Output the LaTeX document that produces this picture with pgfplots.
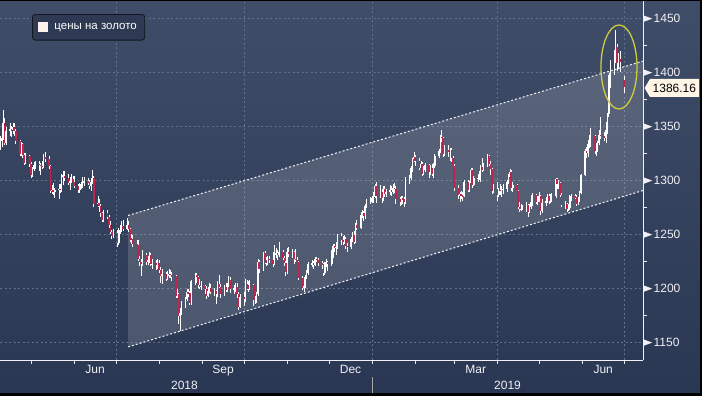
\documentclass[border=0pt]{standalone}
\usepackage{pgfplots}
\pgfplotsset{compat=1.18}
\usepackage{pgfplotstable}
\usepackage{fontspec}
\setmainfont{Liberation Sans}
\definecolor{bgtop}{RGB}{64,77,104}
\definecolor{bgbot}{RGB}{42,55,82}
\definecolor{gridc}{RGB}{98,112,140}
\definecolor{candlered}{RGB}{188,38,76}
\definecolor{legfill}{RGB}{46,57,84}
\definecolor{legdraw}{RGB}{18,22,32}
\definecolor{legsq}{RGB}{255,242,238}
\definecolor{ellc}{RGB}{204,204,62}
\definecolor{tagc}{RGB}{255,246,232}
\definecolor{txtc}{RGB}{240,240,245}
\pgfplotstableread{
d o h l c
98 1332 1341 1328 1336
99 1336 1342 1331 1339
100 1339 1365 1337 1353
101 1353 1357 1332 1334
102 1334 1349 1332 1345
105 1345 1353 1341 1347
106 1347 1350 1340 1346
107 1346 1353 1343 1349
108 1349 1353 1341 1345
109 1345 1347 1333 1336
112 1336 1337 1322 1324
113 1324 1335 1322 1333
114 1333 1334 1320 1323
115 1323 1325 1314 1316
116 1316 1325 1315 1322
119 1322 1323 1312 1315
120 1315 1317 1302 1305
121 1305 1312 1303 1310
122 1310 1317 1308 1314
123 1314 1318 1310 1315
126 1315 1318 1308 1314
127 1314 1316 1305 1313
128 1313 1318 1310 1312
129 1312 1324 1311 1321
130 1321 1326 1317 1319
133 1319 1322 1310 1313
134 1313 1314 1288 1290
135 1290 1295 1287 1291
136 1291 1297 1286 1289
137 1289 1293 1283 1291
140 1291 1296 1282 1292
141 1292 1296 1288 1291
142 1291 1306 1289 1304
143 1304 1308 1295 1304
144 1304 1308 1299 1302
147 1302 1306 1295 1297
148 1297 1303 1291 1299
149 1299 1306 1297 1301
150 1301 1304 1296 1298
151 1298 1304 1293 1294
154 1294 1296 1288 1291
155 1291 1297 1288 1294
156 1294 1298 1292 1296
157 1296 1303 1293 1298
158 1297 1303 1294 1299
161 1299 1302 1295 1298
162 1298 1300 1292 1294
163 1294 1300 1290 1298
164 1298 1309 1296 1302
165 1302 1304 1275 1278
168 1278 1285 1275 1279
169 1279 1282 1270 1276
170 1276 1278 1266 1269
171 1269 1270 1261 1263
172 1263 1272 1261 1269
175 1269 1272 1264 1266
176 1266 1268 1256 1258
177 1258 1262 1250 1252
178 1252 1254 1245 1248
179 1248 1255 1246 1251
182 1251 1254 1238 1242
183 1242 1256 1240 1253
184 1253 1258 1250 1254
185 1254 1262 1252 1257
186 1257 1263 1253 1255
189 1255 1265 1254 1258
190 1258 1262 1252 1255
191 1255 1256 1243 1246
192 1246 1250 1241 1245
193 1245 1249 1238 1241
196 1241 1244 1236 1240
197 1240 1244 1225 1227
198 1227 1230 1220 1224
199 1224 1227 1211 1222
200 1222 1235 1220 1231
203 1231 1232 1221 1224
204 1224 1230 1221 1226
205 1226 1233 1223 1231
206 1231 1232 1220 1222
207 1222 1227 1218 1223
210 1223 1226 1217 1221
211 1221 1227 1218 1223
212 1223 1226 1214 1217
213 1217 1219 1205 1211
214 1211 1218 1204 1213
217 1213 1215 1206 1208
218 1208 1216 1207 1211
219 1211 1218 1209 1213
220 1213 1217 1209 1212
221 1212 1215 1206 1211
224 1211 1212 1191 1193
225 1193 1199 1191 1194
226 1194 1195 1167 1174
227 1174 1181 1160 1177
228 1177 1188 1175 1184
231 1184 1192 1181 1190
232 1190 1199 1188 1196
233 1196 1199 1192 1195
234 1195 1197 1184 1186
235 1186 1207 1184 1206
238 1206 1214 1203 1212
239 1212 1214 1205 1210
240 1210 1211 1200 1203
241 1203 1208 1199 1201
242 1201 1206 1198 1202
245 1202 1203 1194 1199
246 1199 1202 1190 1193
247 1193 1201 1192 1197
248 1197 1205 1195 1200
249 1200 1204 1194 1196
252 1196 1200 1193 1197
253 1197 1198 1185 1194
254 1194 1206 1192 1204
255 1204 1212 1200 1201
256 1201 1204 1191 1194
259 1194 1203 1193 1201
260 1201 1205 1196 1198
261 1198 1205 1196 1203
262 1203 1211 1201 1207
263 1207 1210 1195 1199
266 1199 1203 1194 1200
267 1200 1205 1196 1201
268 1201 1205 1191 1194
269 1194 1196 1180 1182
270 1182 1194 1181 1192
273 1192 1196 1183 1190
274 1190 1208 1187 1204
275 1204 1207 1198 1203
276 1203 1206 1196 1199
277 1199 1207 1198 1203
280 1203 1204 1183 1189
281 1189 1193 1185 1190
282 1190 1196 1186 1194
283 1194 1227 1193 1224
284 1224 1226 1214 1218
287 1218 1233 1216 1232
288 1232 1234 1222 1226
289 1226 1229 1220 1223
290 1223 1230 1221 1227
291 1227 1230 1223 1226
294 1226 1233 1219 1222
295 1222 1240 1221 1231
296 1231 1237 1228 1232
297 1232 1235 1226 1231
298 1231 1243 1229 1233
301 1233 1235 1226 1228
302 1228 1230 1220 1223
303 1223 1225 1211 1215
304 1215 1237 1213 1233
305 1233 1238 1229 1232
308 1232 1236 1228 1233
309 1233 1234 1222 1227
310 1227 1236 1224 1226
311 1226 1229 1221 1224
312 1224 1225 1207 1209
315 1209 1211 1198 1200
316 1200 1206 1196 1202
317 1202 1212 1200 1210
318 1210 1217 1208 1214
319 1214 1224 1212 1222
322 1222 1226 1219 1223
323 1223 1225 1218 1221
324 1221 1229 1220 1227
325 1227 1229 1224 1226
326 1226 1228 1220 1223
329 1223 1225 1218 1222
330 1222 1223 1211 1214
331 1214 1224 1212 1221
332 1221 1227 1219 1224
333 1224 1225 1216 1222
336 1222 1235 1220 1230
337 1230 1241 1228 1239
338 1239 1241 1233 1237
339 1237 1243 1231 1238
340 1238 1250 1236 1248
343 1248 1251 1240 1244
344 1244 1248 1240 1243
345 1243 1249 1241 1245
346 1245 1247 1236 1239
347 1239 1242 1233 1238
350 1238 1247 1236 1245
351 1245 1252 1243 1249
352 1249 1253 1241 1243
353 1243 1260 1242 1258
354 1258 1263 1254 1256
357 1256 1270 1255 1268
358 1268 1272 1265 1269
359 1269 1271 1262 1267
360 1267 1278 1264 1276
361 1276 1282 1274 1280
364 1280 1284 1278 1282
365 1282 1285 1279 1283
366 1283 1289 1279 1284
367 1284 1296 1283 1294
368 1294 1298 1279 1285
371 1285 1295 1283 1289
372 1289 1290 1279 1283
373 1283 1294 1281 1292
374 1292 1294 1284 1287
375 1287 1292 1284 1289
378 1289 1295 1286 1291
379 1291 1294 1285 1289
380 1289 1296 1287 1293
381 1293 1297 1288 1292
382 1292 1294 1278 1282
385 1282 1284 1276 1280
386 1280 1285 1277 1283
387 1283 1285 1278 1282
388 1282 1284 1275 1280
389 1280 1303 1278 1298
392 1298 1305 1296 1302
393 1302 1313 1300 1311
394 1311 1320 1307 1319
395 1319 1326 1317 1321
396 1321 1323 1313 1318
399 1318 1320 1309 1311
400 1311 1318 1310 1315
401 1315 1317 1304 1306
402 1306 1313 1305 1309
403 1309 1316 1307 1314
406 1314 1315 1302 1307
407 1307 1314 1305 1311
408 1311 1315 1304 1306
409 1306 1316 1302 1313
410 1313 1324 1311 1322
413 1322 1329 1320 1327
414 1327 1342 1325 1340
415 1340 1346 1335 1339
416 1339 1340 1321 1324
417 1324 1332 1322 1328
420 1328 1332 1321 1326
421 1326 1330 1318 1328
422 1328 1330 1317 1320
423 1320 1322 1310 1313
424 1313 1315 1290 1293
427 1293 1295 1282 1286
428 1286 1289 1280 1287
429 1287 1290 1282 1286
430 1286 1289 1281 1285
431 1285 1300 1284 1298
434 1298 1300 1289 1291
435 1291 1299 1289 1297
436 1297 1311 1296 1309
437 1309 1311 1293 1295
438 1295 1304 1294 1302
441 1301 1305 1298 1302
442 1302 1308 1300 1306
443 1306 1314 1298 1312
444 1312 1320 1307 1309
445 1309 1316 1308 1313
448 1313 1324 1312 1322
449 1322 1323 1313 1315
450 1315 1318 1305 1310
451 1310 1311 1287 1290
452 1290 1296 1288 1292
455 1292 1298 1281 1286
456 1286 1293 1284 1291
457 1291 1296 1286 1290
458 1290 1294 1284 1291
459 1291 1296 1287 1292
462 1292 1300 1289 1298
463 1298 1306 1296 1303
464 1303 1310 1300 1307
465 1307 1309 1290 1293
466 1293 1298 1289 1295
469 1295 1296 1286 1290
470 1290 1291 1273 1275
471 1275 1280 1270 1273
472 1273 1278 1271 1274
473 1274 1277 1272 1275
476 1275 1280 1270 1277
477 1277 1278 1266 1270
478 1270 1278 1269 1275
479 1275 1282 1273 1280
480 1280 1288 1276 1286
483 1286 1287 1278 1280
484 1280 1285 1277 1283
485 1283 1289 1280 1285
486 1285 1286 1268 1271
487 1271 1282 1269 1279
490 1279 1284 1276 1281
491 1281 1287 1279 1285
492 1285 1287 1278 1281
493 1281 1287 1279 1284
494 1284 1288 1280 1285
497 1285 1302 1283 1301
498 1301 1302 1292 1296
499 1296 1300 1292 1297
500 1297 1298 1284 1286
501 1286 1288 1275 1277
504 1277 1281 1273 1278
505 1278 1279 1270 1273
506 1273 1278 1271 1274
507 1274 1286 1272 1283
508 1283 1287 1281 1285
511 1285 1287 1282 1284
512 1284 1286 1276 1278
513 1278 1284 1277 1281
514 1281 1290 1280 1288
515 1288 1306 1287 1305
518 1305 1329 1304 1327
519 1327 1331 1320 1325
520 1325 1336 1321 1333
521 1333 1342 1330 1337
522 1337 1348 1331 1341
525 1341 1342 1324 1327
526 1327 1334 1322 1328
527 1328 1336 1326 1334
528 1334 1346 1332 1342
529 1342 1358 1338 1341
532 1341 1344 1336 1339
533 1339 1354 1334 1346
534 1346 1362 1343 1361
535 1361 1397 1358 1391
536 1391 1411 1385 1399
539 1399 1420 1397 1418
540 1418 1439 1408 1423
541 1423 1426 1401 1408
542 1408 1418 1403 1412
543 1412 1419 1400 1409
546 1393 1396 1381 1386
}\gold
\begin{document}
\begin{tikzpicture}[x=1pt,y=1pt]
\shade[top color=bgtop, bottom color=bgbot] (0,0) rectangle (702,396);
\begin{axis}[
  at={(0pt,36pt)}, anchor=south west,
  width=643pt, height=360pt, scale only axis,
  xmin=97.7, xmax=559.6, ymin=1133.3, ymax=1466.7,
  axis x line*=bottom, axis y line*=right,
  axis line style={txtc, line width=0.9pt},
  ytick={1150,1200,...,1450},
  minor ytick={1175,1225,...,1425},
  xtick={181,273,365,455,546},
  minor xtick={120,151,212,243,304,334,396,424,485,516},
  xticklabels={},
  extra x ticks={166,258,349.5,439.5,531},
  extra x tick labels={Jun,Sep,Dec,Mar,Jun},
  extra x tick style={grid=none, major tick length=0pt},
  tick align=outside,
  major tick length=4pt, minor tick length=4pt,
  every tick/.style={txtc, line width=0.8pt},
  xmajorgrids, ymajorgrids,
  major grid style={gridc, line width=0.6pt, dash pattern=on 2pt off 2.5pt},
  tick label style={font=\fontsize{12}{14}\selectfont, text=txtc},
  xticklabel style={yshift=-2pt},
  yticklabel style={anchor=west, inner sep=0pt, xshift=-3pt},
  yticklabel={\tikz[baseline=-0.55ex]\fill[txtc](0,-3pt)--(8pt,0)--(0,3pt)--cycle;\hspace{1.5pt}\pgfmathprintnumber[assume math mode=true,1000 sep={},fixed,precision=0]{\tick}},
  clip=true,
  legend style={at={(0.0498,0.961)}, anchor=north west, fill=legfill, draw=legdraw,
    rounded corners=3pt, text=white, font=\fontsize{11.5}{13}\selectfont,
    inner xsep=6pt, inner ysep=7pt, line width=0.8pt,
    /tikz/every odd column/.append style={column sep=4pt}},
  legend image code/.code={\fill[legsq, sharp corners] (0pt,-5pt) rectangle (10pt,5pt);},
]
% channel
\addplot[draw=none, fill=white, fill opacity=0.15, forget plot]
  coordinates {(189.7,1267.1) (559.6,1410.1) (559.6,1290.3) (189.7,1145.4)} -- cycle;
\addplot[white!92!gridc, line width=1pt, dash pattern=on 2pt off 2pt, forget plot]
  coordinates {(189.7,1267.1) (559.6,1410.1)};
\addplot[white!92!gridc, line width=1pt, dash pattern=on 2pt off 2pt, forget plot]
  coordinates {(189.7,1145.4) (559.6,1290.3)};
% wicks
\addplot[draw=none, forget plot,
  error bars/.cd, y dir=both, y explicit, error mark=none,
  error bar style={draw=white, line width=0.6pt}]
  table[x=d, y expr={0.5*(\thisrow{h}+\thisrow{l})}, y error expr={0.5*(\thisrow{h}-\thisrow{l})}] {\gold};
% up bodies
\addplot[draw=none,
  restrict expr to domain={\thisrow{c}-\thisrow{o}}{0:1000},
  error bars/.cd, y dir=both, y explicit, error mark=none,
  error bar style={draw=white, line width=1.6pt}]
  table[x=d, y expr={0.5*(\thisrow{o}+\thisrow{c})}, y error expr={max(0.5*abs(\thisrow{c}-\thisrow{o}),0.5)}] {\gold};
\addlegendentry{цены на золото}
% down bodies
\addplot[draw=none, forget plot,
  restrict expr to domain={\thisrow{o}-\thisrow{c}}{0.5:1000},
  error bars/.cd, y dir=both, y explicit, error mark=none,
  error bar style={draw=candlered, line width=1.7pt}]
  table[x=d, y expr={0.5*(\thisrow{o}+\thisrow{c})}, y error expr={max(0.5*abs(\thisrow{c}-\thisrow{o}),0.5)}] {\gold};
\end{axis}
% ellipse
\draw[ellc, line width=1.3pt] (619,329) ellipse [x radius=18, y radius=42];
% tag
\fill[tagc] (644.5,308) -- (650,317) -- (699,317) -- (699,299) -- (650,299) -- cycle;
\node[anchor=west, inner sep=0pt, text=black, font=\fontsize{12}{14}\selectfont] at (652.5,308) {1386.16};
% years
\node[text=txtc, font=\fontsize{12}{14}\selectfont] at (184.5,11) {2018};
\node[text=txtc, font=\fontsize{12}{14}\selectfont] at (507.5,11) {2019};
\draw[gray!70, line width=0.8pt] (372,3) -- (372,19);
% borders
\fill[black] (0,0) rectangle (702,3);
\fill[black] (0,395) rectangle (702,396);
\fill[black] (700,0) rectangle (702,396);
\pgfresetboundingbox
\useasboundingbox (0,0) rectangle (702,396);
\end{tikzpicture}
\end{document}
